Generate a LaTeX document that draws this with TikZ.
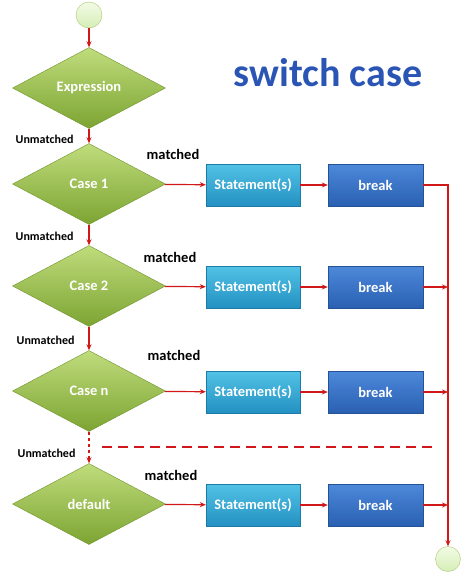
\documentclass[tikz,border=0pt]{standalone}
\usepackage{fontspec}
\setmainfont{Carlito}
\usetikzlibrary{shapes.geometric,arrows.meta}
\definecolor{flowred}{HTML}{D01818}
\definecolor{leafhi}{HTML}{C0DC7C}
\definecolor{leaflo}{HTML}{7CA432}
\definecolor{skyhi}{HTML}{52C2E6}
\definecolor{skylo}{HTML}{2391C2}
\definecolor{seahi}{HTML}{4D89DA}
\definecolor{sealo}{HTML}{2A60B2}
\definecolor{titleblue}{HTML}{2B55B5}
\definecolor{dothi}{HTML}{F2FBE6}
\definecolor{dotlo}{HTML}{D6EEB6}
\tikzset{
  decision/.style={diamond, aspect=1.89, minimum width=153pt, minimum height=81pt,
    inner sep=0pt, draw=leaflo!90!black, top color=leafhi, bottom color=leaflo,
    text=white, font=\bfseries\fontsize{14.5}{16}\selectfont},
  stmtbox/.style={rectangle, minimum width=94pt, minimum height=42pt, inner sep=0pt,
    draw=skylo!85!black, top color=skyhi, bottom color=skylo,
    text=white, font=\bfseries\fontsize{14.5}{16}\selectfont},
  breakbox/.style={stmtbox, minimum width=95pt, draw=sealo!85!black,
    top color=seahi, bottom color=sealo},
  endpoint/.style={circle, minimum size=26pt, inner sep=0pt,
    draw=leafhi!90!black, top color=dothi, bottom color=dotlo},
  flow/.style={draw=flowred, line width=1.2pt, -{Stealth[length=6pt,width=5pt]}},
  edgetag/.style={font=\bfseries\fontsize{12}{14}\selectfont},
  hittag/.style={font=\bfseries\fontsize{14.5}{16}\selectfont},
}
\begin{document}
\begin{tikzpicture}[x=1pt, y=-1pt]
  \useasboundingbox[fill=white] (0,0) rectangle (474,579);
  % title
  \node[text=titleblue, font=\bfseries\fontsize{40}{46}\selectfont] (title) at (328,73) {switch case};
  % start and end
  \node[endpoint] (start) at (89,15) {};
  \node[endpoint, minimum size=25pt] (stop) at (448,559) {};
  % decisions
  \node[decision] (expr) at (89,88) {Expression};
  \node[decision] (c1) at (89,184) {Case 1};
  \node[decision] (c2) at (89,286) {Case 2};
  \node[decision] (cn) at (89,391) {Case n};
  \node[decision] (dflt) at (89,504) {default};
  % statements and breaks
  \node[stmtbox] (s1) at (253,185) {Statement(s)};
  \node[stmtbox] (s2) at (253,287) {Statement(s)};
  \node[stmtbox] (s3) at (253,392) {Statement(s)};
  \node[stmtbox] (s4) at (253,505) {Statement(s)};
  \node[breakbox] (b1) at (375.5,185) {break};
  \node[breakbox] (b2) at (375.5,287) {break};
  \node[breakbox] (b3) at (375.5,392) {break};
  \node[breakbox] (b4) at (375.5,505) {break};
  % joins on the right rail
  \coordinate (j2) at (448,287);
  \coordinate (j3) at (448,392);
  \coordinate (j4) at (448,505);
  \coordinate (gapl) at (102,447);
  \coordinate (gapr) at (435,447);
  % labels
  \node[edgetag, anchor=east] (u1) at (77,139) {Unmatched};
  \node[edgetag, anchor=east] (u2) at (77,236) {Unmatched};
  \node[edgetag, anchor=east] (u3) at (78,340) {Unmatched};
  \node[edgetag, anchor=east] (u4) at (79,453) {Unmatched};
  \node[hittag] (m1) at (173,154) {matched};
  \node[hittag] (m2) at (170,257) {matched};
  \node[hittag] (m3) at (174,355) {matched};
  \node[hittag] (m4) at (171,475) {matched};
  % flow down
  \draw[flow] (start) -- (expr);
  \draw[flow] (expr) -- (c1);
  \draw[flow] (c1) -- (c2);
  \draw[flow] (c2) -- (cn);
  \draw[flow, dashed] (cn) -- (dflt);
  \draw[flowred, line width=2pt, dash pattern=on 10pt off 6pt] (gapl) -- (gapr);
  % flow right
  \draw[flow] (c1) -- (s1);
  \draw[flow] (c2) -- (s2);
  \draw[flow] (cn) -- (s3);
  \draw[flow] (dflt) -- (s4);
  \draw[flow] (s1) -- (b1);
  \draw[flow] (s2) -- (b2);
  \draw[flow] (s3) -- (b3);
  \draw[flow] (s4) -- (b4);
  \draw[flow] (b1) -| (stop);
  \draw[flow] (b2) -- (j2);
  \draw[flow] (b3) -- (j3);
  \draw[flow] (b4) -- (j4);
\end{tikzpicture}
\end{document}
